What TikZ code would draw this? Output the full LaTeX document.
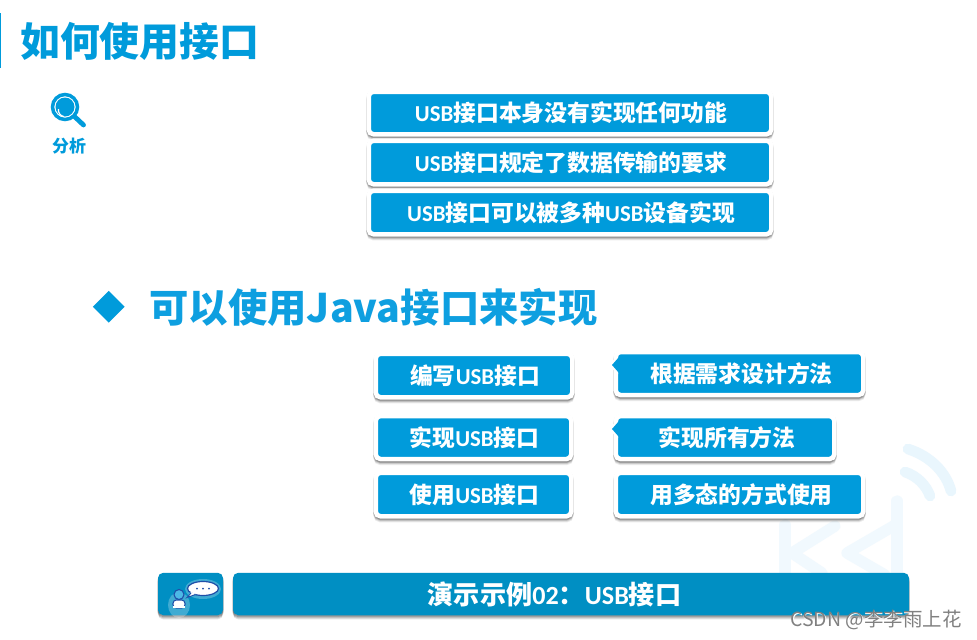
\documentclass[tikz,border=0pt]{standalone}
\usepackage{fontspec}
\setmainfont{Noto Sans CJK SC}
\newfontfamily\latfont{Carlito}
\newcommand{\lat}[1]{{\latfont\bfseries #1}}
\newcommand{\nudge}[1]{\hspace*{#1}}
\usetikzlibrary{shapes.geometric}
\definecolor{mainblue}{HTML}{009BDB}
\definecolor{barblue}{HTML}{008FC3}
\definecolor{headblue}{HTML}{0E9FE0}
\definecolor{wmark}{HTML}{E9F6FD}
\definecolor{wmarklight}{HTML}{F1F9FE}
\definecolor{navy}{HTML}{1F4FA8}
\tikzset{
  x=0.75pt,y=-0.75pt,
  softshadow/.style={
    preaction={draw=black,fill=black,opacity=.08,transform canvas={yshift=-2.9pt}},
    preaction={draw=black,fill=black,opacity=.12,transform canvas={yshift=-2.1pt}},
    preaction={draw=black,fill=black,opacity=.16,transform canvas={yshift=-1.3pt}},
    preaction={draw=black,fill=black,opacity=.10,transform canvas={yshift=-0.5pt}}},
  bareb/.style 2 args={softshadow,draw=white,fill=mainblue,line width=3.4pt,rounded corners=3.5pt,
    inner sep=0pt,text=white,font=\bfseries\fontsize{17.1}{20}\selectfont,
    minimum width={(#1)*0.75pt+3.4pt},minimum height={(#2)*0.75pt+3.4pt}},
  tailfill/.style={fill=mainblue},
  barbox/.style 2 args={softshadow,fill=barblue,rounded corners=4pt,inner sep=0pt,text=white,
    font=\bfseries\fontsize{19.6}{23}\selectfont,minimum width={(#1)*0.75pt},minimum height={(#2)*0.75pt}},
  wm/.style={draw=wmark,line width=8pt,line cap=round,line join=round},
  wmk/.style={draw=wmarklight,line width=8.5pt,line cap=round,line join=round},
  label/.style={inner sep=0pt,anchor=center},
}
\begin{document}
\begin{tikzpicture}
\useasboundingbox[fill=white] (0,0) rectangle (977,639);
% watermark
\draw[wm] (908,449) .. controls (930,456) and (946,472) .. (951,491);
\draw[wm] (905,472) .. controls (917,476) and (926,485) .. (930,496);
\draw[wmk] (785,525) -- (785,575);
\draw[wmk] (835,526) -- (792,553) -- (822,573);
\draw[wmk] (897,501) -- (897,575);
\draw[wmk] (897,524) -- (847,553) -- (885,575);
% title
\draw[mainblue,line width=1.1pt] (0.5,13) coordinate (tl1) -- (0.5,68) coordinate (tl2);
\node[label,text=mainblue,font=\bfseries\fontsize{29.9}{35}\selectfont] (title) at (139.8,41) {如何使用接口};
% magnifier
\draw[mainblue,line width=2.6pt,fill=white] (65,107) circle (12.5);
\fill[mainblue] (65,107) circle (9.5);
\draw[white,line width=0.9pt] (58.5,109) arc[start angle=190,end angle=100,radius=6.5];
\draw[mainblue,line width=3.6pt,line cap=round] (75,117) -- (83.5,125);
\node[label,text=mainblue,font=\bfseries\fontsize{12.7}{15}\selectfont] (ana) at (69,146) {分析};
% top boxes
\node[bareb={398}{38}] (t1) at (570,113) {\nudge{1.5pt}\lat{USB}接口本身没有实现任何功能};
\node[bareb={398}{39}] (t2) at (570,162.5) {\nudge{1.5pt}\lat{USB}接口规定了数据传输的要求};
\node[bareb={398}{39}] (t3) at (570,212.5) {\nudge{1.5pt}\lat{USB}接口可以被多种\lat{USB}设备实现};
% heading
\node[label,shape=diamond,fill=mainblue,minimum width=24pt,minimum height=24pt,aspect=1] (dm) at (108.7,306.7) {};
\node[label,text=headblue,font=\bfseries\fontsize{29.5}{35}\selectfont] (head) at (373.5,307) {可以使用Java接口来实现};
% lower boxes
\node[bareb={192}{39}] (l1) at (474,375.5) {\nudge{1.5pt}编写\lat{USB}接口};
\node[bareb={191}{38.5}] (l2) at (473.5,437.5) {\nudge{1.5pt}实现\lat{USB}接口};
\node[bareb={191}{39}] (l3) at (473.5,494.5) {\nudge{1.5pt}使用\lat{USB}接口};
\node[bareb={243}{38.5}] (r1) at (739.5,373.5) {\nudge{3pt}根据需求设计方法};
\node[bareb={214}{38.5}] (r2) at (725,437.5) {\nudge{3pt}实现所有方法};
\node[bareb={243}{39}] (r3) at (739.5,494.5) {\nudge{3pt}用多态的方式使用};
\fill[white] (618,356) -- (608,365) -- (618,374) -- cycle;
\fill[white] (618,420) -- (608,429) -- (618,438) -- cycle;
\fill[tailfill] (619,357) -- (612,365) -- (619,373) -- cycle;
\fill[tailfill] (619,421) -- (612,429) -- (619,437) -- cycle;
% bottom bar
\node[barbox={65}{42.5}] (ico) at (190.5,594) {};
\fill[white,opacity=.25] (179,605) ellipse (11 and 13);
\fill[white,opacity=.25] (203,589) ellipse (18 and 10);
\draw[navy,line width=0.8pt,fill=mainblue!70!white] (179,594.5) circle (5);
\draw[navy,line width=0.8pt,fill=white,rounded corners=2.5pt] (173,608) rectangle (185,600);
\fill[white] (173,608) rectangle (185,606);
\draw[navy,line width=0.9pt,fill=white] (203,588.5) ellipse (15.5 and 7);
\fill[white] (191,592) -- (187,597.5) -- (196,594) -- cycle;
\draw[navy,line width=0.7pt] (191,593) -- (187,597.5) -- (195.5,594.5);
\foreach \dx in {197,203,209}{\fill[navy] (\dx,588.5) circle (1);}
\node[barbox={676}{42.5}] (bar) at (571,594) {演示示例\lat{02}：\lat{USB}接口\hspace*{24.75pt}};
% CSDN mark
\node[label,text=white,font=\fontsize{14.6}{17}\selectfont] at (876.6,620.6) {CSDN @李李雨上花};
\node[label,text=black!50,font=\fontsize{14.6}{17}\selectfont] (csdn) at (876,620) {CSDN @李李雨上花};
\end{tikzpicture}
\end{document}
